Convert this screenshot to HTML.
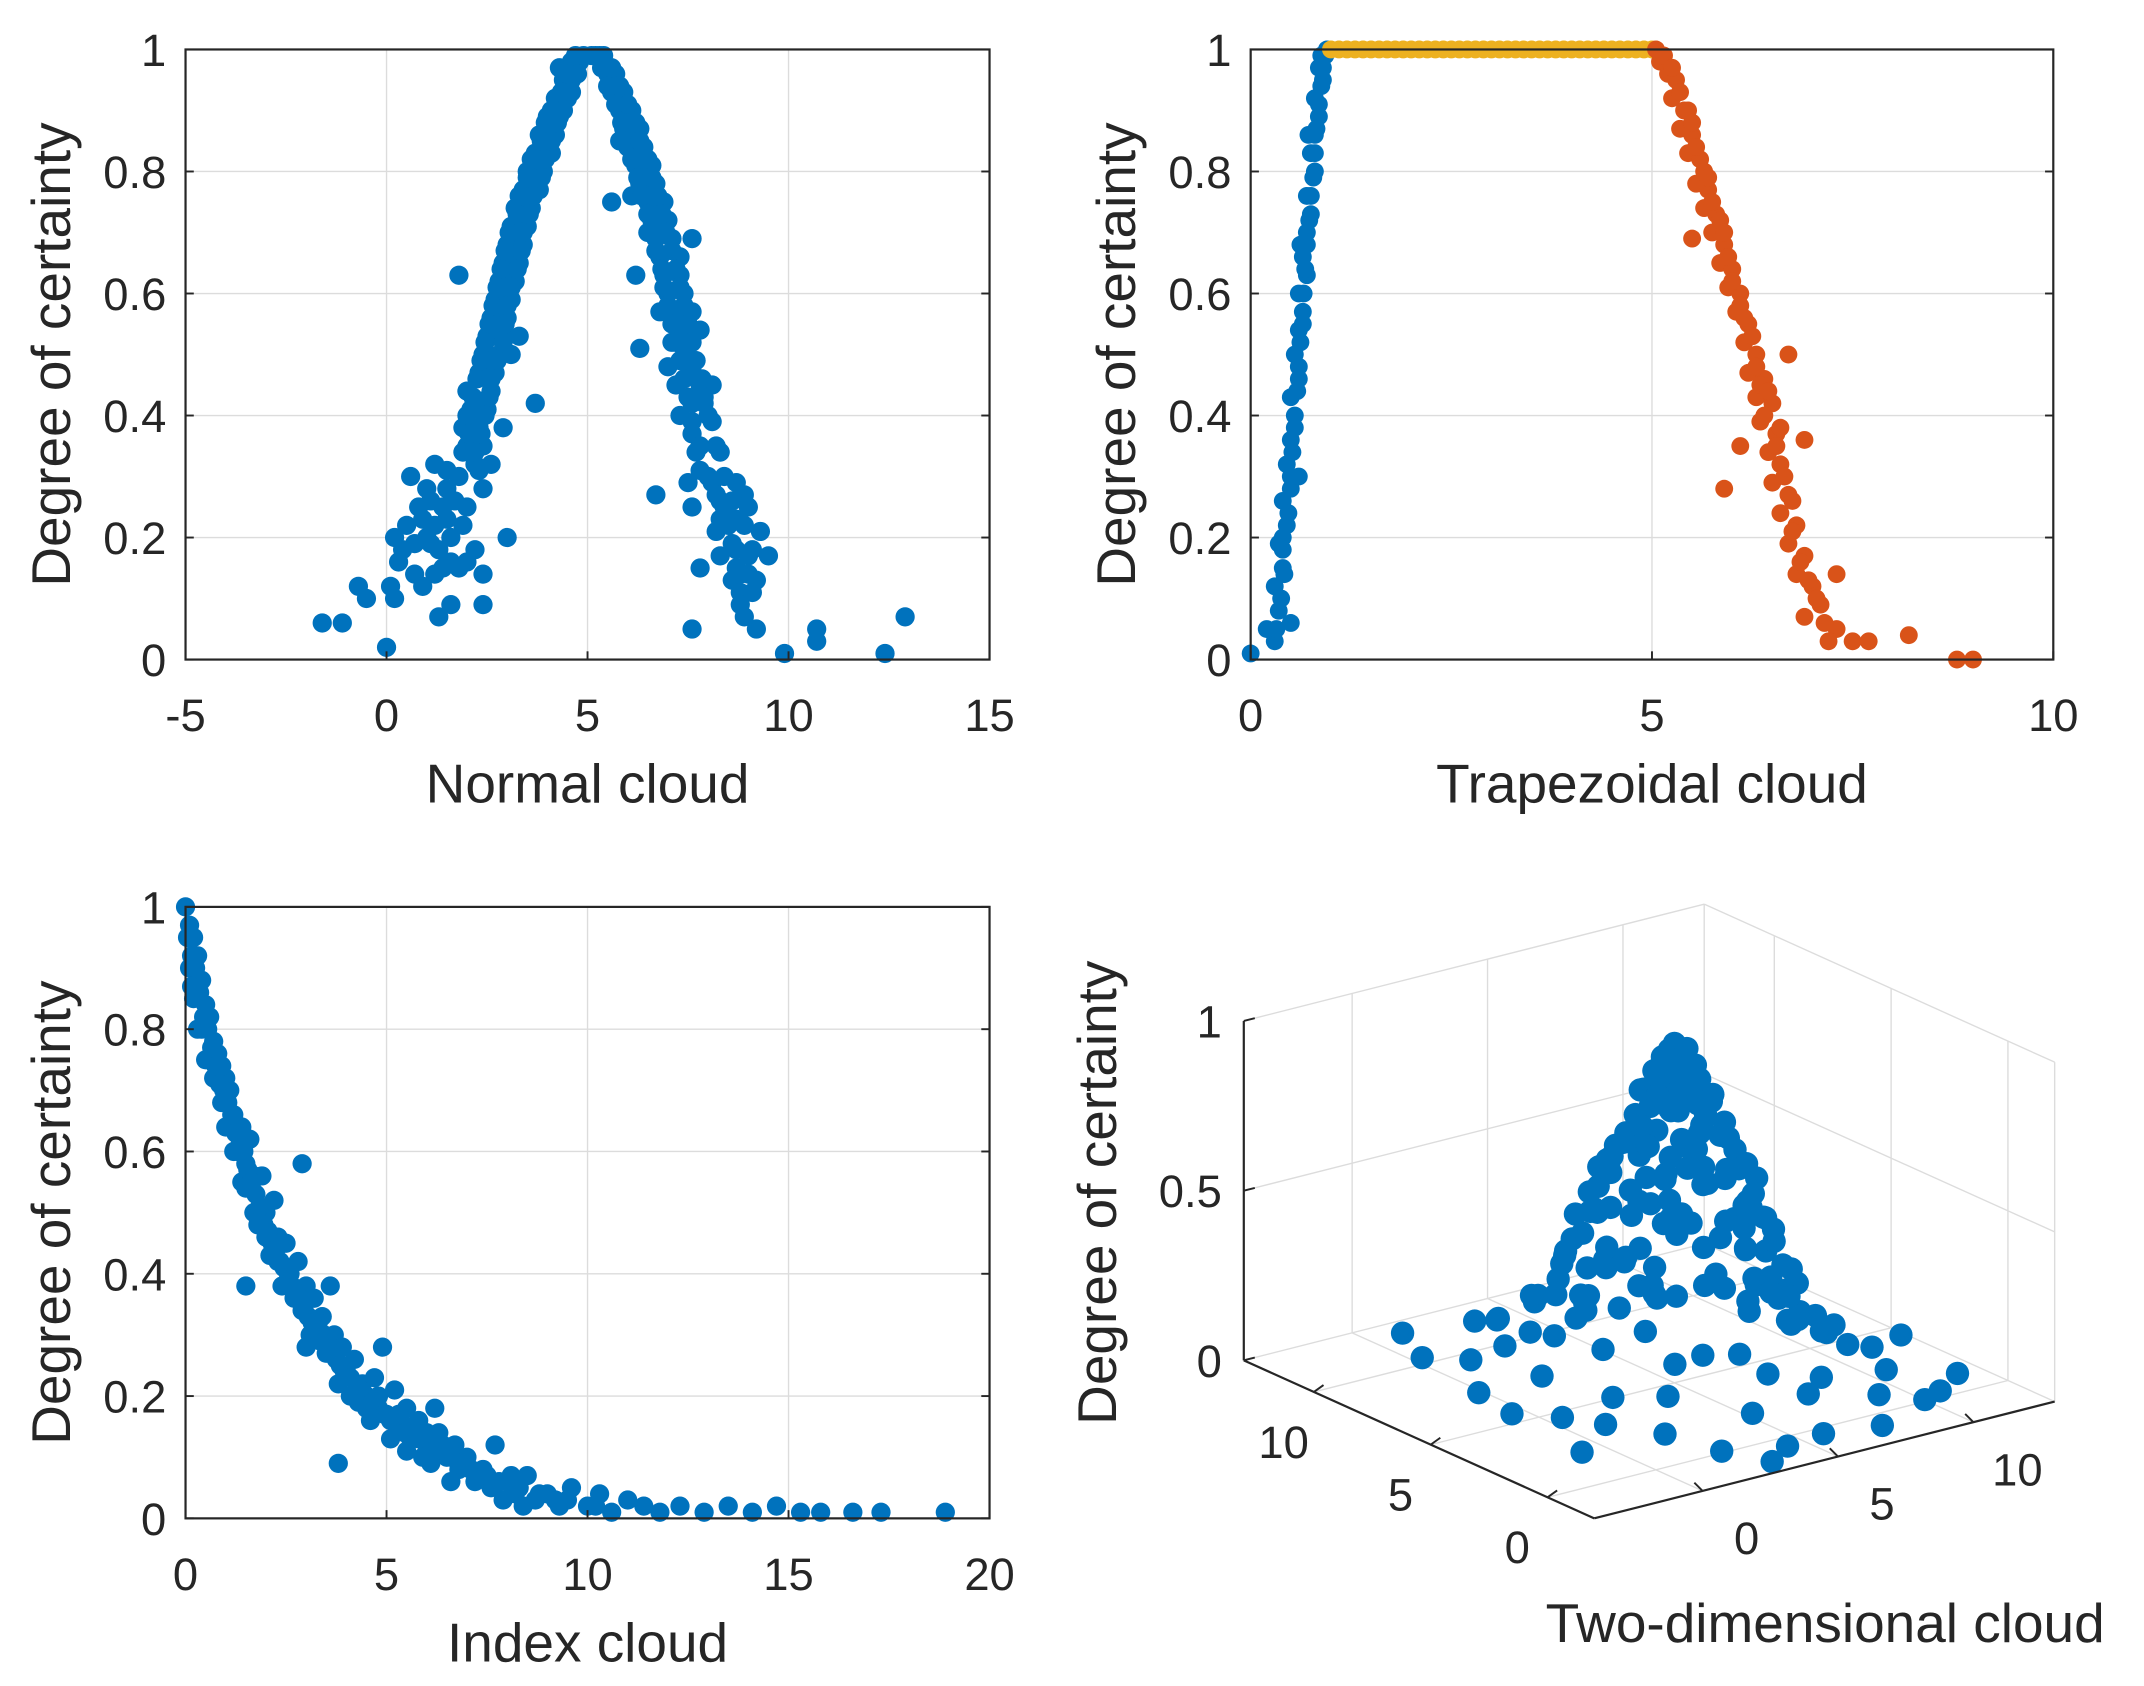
<!DOCTYPE html>
<html><head><meta charset="utf-8"><style>
html,body{margin:0;padding:0;background:#fff}
svg{display:block}
text{font-family:"Liberation Sans",Arial,sans-serif;fill:#262626}
</style></head><body>
<svg id="fig" width="2144" height="1686" viewBox="0 0 1560 1227" preserveAspectRatio="none" xmlns="http://www.w3.org/2000/svg"></svg>
<script>
// ---------- data ----------
const normalLeft=[[4.6,.98],[4.8,.98],[4.4,.95],[4.6,.95],[4.2,.92],[4.5,.92],[4.0,.89],[4.3,.89],[3.8,.86],[4.2,.86],[3.7,.83],[4.1,.83],[3.5,.80],[3.9,.80],[3.4,.77],[3.8,.77],[3.2,.74],[3.6,.74],[3.1,.71],[3.5,.71],[3.0,.68],[3.4,.68],[2.9,.65],[3.3,.65],[2.8,.62],[3.2,.62],[2.7,.59],[3.1,.59],[2.6,.56],[3.0,.56],[2.5,.53],[2.9,.53],[3.3,.53],[2.4,.50],[2.8,.50],[3.1,.50],[2.3,.47],[2.7,.47],[2.0,.44],[2.6,.44],[2.1,.41],[2.5,.41],[1.9,.38],[2.3,.38],[2.9,.38],[2.0,.35],[2.4,.35],[1.2,.32],[2.2,.32],[2.6,.32],[0.6,.30],[1.8,.30],[1.0,.28],[1.5,.28],[2.4,.28],[0.8,.25],[1.4,.25],[2.0,.25],[0.5,.22],[1.2,.22],[1.9,.22],[0.2,.20],[1.0,.20],[1.6,.20],[3.0,.20],[0.4,.18],[1.3,.18],[2.2,.18],[0.3,.16],[1.6,.16],[2.0,.16],[0.7,.14],[1.2,.14],[2.4,.14],[0.9,.12],[-0.7,.12],[0.1,.12],[-0.5,.10],[0.2,.10],[1.6,.09],[2.4,.09],[1.3,.07],[-1.6,.06],[-1.1,.06],[0.0,.02],[3.7,.42],[1.8,.63],[4.3,.97],[3.9,.84],[3.3,.70],[2.9,.58]];
const normalLeft2=[[4.7,.99],[4.9,.99],[4.5,.96],[4.75,.96],[4.35,.93],[4.6,.93],[4.1,.90],[4.4,.90],[3.95,.88],[4.25,.88],[3.85,.85],[4.1,.85],[3.6,.82],[3.95,.82],[3.5,.79],[3.85,.79],[3.3,.76],[3.65,.76],[3.25,.73],[3.55,.73],[3.05,.70],[3.4,.70],[2.95,.67],[3.35,.67],[2.85,.64],[3.25,.64],[2.75,.61],[3.1,.61],[2.65,.58],[3.0,.58],[2.55,.55],[2.95,.55],[2.45,.52],[2.9,.52],[2.35,.49],[2.75,.49],[2.25,.46],[2.6,.46],[2.15,.43],[2.55,.43],[2.0,.40],[2.45,.40],[2.05,.37],[2.35,.37],[1.9,.34],[2.2,.34],[1.5,.31],[2.3,.31],[1.1,.26],[1.7,.26],[0.9,.23],[1.5,.23],[0.7,.19],[1.1,.19],[1.4,.15],[1.8,.15]];
const normalRight=[[5.2,.99],[5.4,.99],[5.5,.96],[5.7,.96],[5.6,.93],[5.9,.93],[5.8,.90],[6.1,.90],[5.9,.87],[6.3,.87],[6.0,.84],[6.4,.84],[6.2,.81],[6.6,.81],[6.3,.78],[6.7,.78],[5.6,.75],[6.5,.75],[6.9,.75],[6.6,.72],[7.0,.72],[6.7,.69],[7.1,.69],[7.6,.69],[6.8,.66],[7.3,.66],[6.2,.63],[6.9,.63],[7.3,.63],[7.0,.60],[7.4,.60],[6.8,.57],[7.2,.57],[7.6,.57],[7.3,.54],[7.8,.54],[6.3,.51],[7.4,.51],[7.0,.48],[7.6,.48],[7.2,.45],[7.8,.45],[8.1,.45],[7.6,.42],[7.9,.42],[7.3,.40],[8.0,.40],[7.6,.37],[7.7,.34],[8.3,.34],[7.8,.31],[7.5,.29],[8.1,.29],[8.7,.29],[8.2,.27],[8.9,.27],[6.7,.27],[7.6,.25],[8.4,.25],[9.0,.25],[8.3,.23],[8.7,.23],[8.2,.21],[9.3,.21],[8.6,.19],[8.3,.17],[9.0,.17],[9.5,.17],[8.7,.15],[7.8,.15],[8.6,.13],[9.2,.13],[8.8,.11],[9.1,.11],[8.8,.09],[8.9,.07],[7.6,.05],[9.2,.05],[10.7,.05],[12.9,.07],[10.7,.03],[9.9,.01],[12.4,.01],[6.5,.70],[6.1,.76],[5.8,.85],[7.1,.52]];
const normalRight2=[[5.1,.99],[5.3,.99],[5.35,.97],[5.6,.97],[5.5,.94],[5.8,.94],[5.7,.91],[6.0,.91],[5.85,.88],[6.2,.88],[5.95,.85],[6.3,.85],[6.1,.82],[6.5,.82],[6.25,.79],[6.6,.79],[6.35,.76],[6.75,.76],[6.5,.73],[6.85,.73],[6.6,.70],[6.95,.70],[6.7,.67],[7.1,.67],[6.85,.64],[7.2,.64],[6.9,.61],[7.3,.61],[7.0,.58],[7.4,.58],[7.1,.55],[7.5,.55],[7.2,.52],[7.6,.52],[7.3,.49],[7.7,.49],[7.4,.46],[7.85,.46],[7.5,.43],[7.9,.43],[7.6,.39],[8.1,.39],[7.8,.35],[8.2,.35],[8.0,.30],[8.4,.30],[8.3,.26],[8.6,.26],[8.5,.22],[8.9,.22],[8.7,.18],[9.1,.18],[8.8,.14],[9.0,.14]];
const trapRise=[[0,.01],[.3,.03],[.35,.08],[.3,.12],[.4,.15],[.35,.19],[.45,.22],[.4,.26],[.5,.28],[.45,.32],[.5,.36],[.55,.4],[.5,.43],[.6,.46],[.55,.5],[.6,.54],[.65,.57],[.6,.6],[.7,.63],[.65,.66],[.7,.7],[.75,.73],[.7,.76],[.8,.8],[.75,.83],[.8,.86],[.85,.89],[.8,.92],[.9,.95],[.85,.97],[.95,1.0],[.2,.05],[.5,.06],[.4,.2],[.6,.3],[.62,.68],[.72,.86],[.88,.99],[.32,.05],[.38,.1],[.42,.14],[.4,.18],[.47,.24],[.5,.3],[.52,.34],[.55,.38],[.58,.44],[.6,.48],[.62,.52],[.65,.55],[.66,.6],[.68,.64],[.7,.68],[.73,.72],[.75,.76],[.78,.79],[.8,.83],[.82,.87],[.85,.91],[.88,.94],[.9,.97],[.93,.99]];
const trapFlatX=[1.0,1.1,1.2,1.3,1.4,1.5,1.6,1.7,1.8,1.9,2.0,2.1,2.2,2.3,2.4,2.5,2.6,2.7,2.8,2.9,3.0,3.1,3.2,3.3,3.4,3.5,3.6,3.7,3.8,3.9,4.0,4.1,4.2,4.3,4.4,4.5,4.6,4.7,4.8,4.9,5.0];
const trapFall=[[5.05,1],[5.1,.98],[5.2,.96],[5.3,.95],[5.25,.92],[5.4,.9],[5.35,.87],[5.5,.86],[5.45,.83],[5.6,.82],[5.55,.78],[5.7,.77],[5.65,.74],[5.8,.73],[5.75,.7],[5.9,.68],[5.85,.65],[6.0,.64],[5.95,.61],[6.1,.6],[6.05,.57],[6.2,.55],[6.15,.52],[6.3,.5],[6.2,.47],[6.4,.46],[6.3,.43],[6.5,.42],[6.35,.39],[6.55,.37],[6.45,.34],[6.6,.32],[6.5,.29],[6.7,.27],[6.6,.24],[6.8,.22],[6.7,.19],[6.9,.17],[6.8,.14],[7.0,.12],[7.1,.09],[6.9,.07],[7.3,.05],[7.2,.03],[7.5,.03],[7.7,.03],[8.2,.04],[8.8,0],[9.0,0],[5.5,.69],[6.7,.5],[5.9,.28],[6.1,.35],[6.9,.36],[7.3,.14],[5.15,.99],[5.25,.97],[5.35,.93],[5.45,.9],[5.5,.88],[5.55,.84],[5.65,.8],[5.7,.79],[5.75,.75],[5.85,.72],[5.9,.7],[5.95,.66],[6.0,.62],[6.1,.58],[6.15,.56],[6.25,.53],[6.3,.48],[6.35,.45],[6.45,.44],[6.4,.4],[6.6,.38],[6.55,.35],[6.65,.3],[6.75,.26],[6.75,.21],[6.85,.16],[6.95,.13],[7.05,.1],[7.15,.06]];
const indexPts=[[0,1],[.1,.97],[.2,.95],[.1,.9],[.3,.92],[.2,.85],[.4,.88],[.5,.84],[.3,.8],[.6,.82],[.7,.78],[.5,.75],[.8,.76],[1.0,.72],[.9,.68],[1.1,.7],[1.2,.66],[1.0,.64],[1.4,.64],[1.3,.6],[1.5,.58],[1.6,.62],[1.7,.56],[1.5,.54],[1.9,.56],[2.0,.5],[1.8,.48],[2.2,.52],[2.3,.46],[2.1,.43],[2.5,.45],[2.6,.4],[2.4,.38],[1.5,.38],[2.8,.42],[3.0,.38],[2.9,.34],[3.2,.36],[3.4,.33],[3.1,.3],[3.6,.38],[3.7,.3],[3.5,.27],[3.9,.28],[4.0,.24],[3.8,.22],[4.2,.26],[4.4,.22],[4.3,.19],[4.7,.23],[4.8,.2],[5.0,.17],[4.6,.16],[5.2,.21],[5.3,.15],[3.8,.09],[5.5,.18],[5.6,.13],[5.8,.16],[6.0,.12],[5.9,.1],[6.3,.14],[6.5,.1],[6.7,.12],[6.8,.08],[7.0,.1],[7.2,.06],[7.4,.08],[7.6,.05],[7.7,.12],[8.0,.06],[8.2,.04],[8.5,.07],[8.7,.03],[9.0,.04],[9.3,.02],[9.6,.05],[10.0,.02],[10.3,.04],[10.6,.01],[11.0,.03],[11.4,.02],[11.8,.01],[12.3,.02],[12.9,.01],[13.5,.02],[14.1,.01],[14.7,.02],[15.3,.01],[15.8,.01],[16.6,.01],[17.3,.01],[18.9,.01],[2.9,.58],[6.2,.18],[4.9,.28],[.15,.87],[.4,.8],[.7,.72],[.9,.74],[1.2,.6],[1.4,.55],[1.7,.5],[2.0,.46],[2.3,.42],[2.7,.36],[3.3,.32],[3.0,.28],[4.1,.2],[4.5,.18],[5.1,.13],[5.5,.11],[6.1,.09],[6.6,.06],[7.9,.03],[8.4,.02]];
const indexPts2=[[.05,.95],[.15,.92],[.25,.9],[.35,.86],[.45,.82],[.55,.8],[.65,.77],[.75,.74],[.85,.71],[.95,.7],[1.05,.68],[1.15,.66],[1.25,.63],[1.35,.61],[1.45,.6],[1.55,.57],[1.65,.55],[1.75,.53],[1.85,.51],[1.95,.48],[2.05,.47],[2.15,.45],[2.25,.44],[2.35,.42],[2.45,.41],[2.55,.39],[2.65,.38],[2.75,.37],[2.85,.36],[2.95,.34],[3.05,.33],[3.15,.32],[3.25,.31],[3.35,.29],[3.45,.3],[3.55,.28],[3.65,.27],[3.75,.26],[3.85,.25],[3.95,.24],[4.1,.23],[4.25,.22],[4.35,.21],[4.5,.2],[4.65,.19],[4.8,.18],[4.95,.17],[5.1,.16],[5.3,.17],[5.45,.14],[5.6,.15],[5.8,.13],[6.0,.14],[6.2,.11],[6.4,.12],[6.6,.1],[6.9,.09],[7.1,.08],[7.5,.07],[7.8,.06],[8.1,.07],[8.3,.05],[8.8,.04],[9.2,.03],[9.5,.03],[10.2,.02]];
const cloud2d=[[5,5,1],[5.3,5.2,.97],[4.8,4.9,.96],[5.6,4.8,.93],[4.5,5.3,.92],[5.2,5.8,.9],[5,4.3,.9],[5.9,5.4,.88],[4.2,4.8,.87],[5.5,4,.85],[4.6,6,.84],[6.2,5,.82],[3.9,5.4,.8],[5.8,6.3,.8],[4.8,3.7,.78],[6.5,4.6,.75],[3.6,4.5,.74],[5.2,6.8,.72],[4.1,3.4,.7],[6.7,5.8,.7],[3.3,5.7,.68],[6,3.4,.66],[5,7.2,.64],[7,4.5,.62],[3,4.2,.6],[4.3,7,.6],[6.4,6.8,.58],[3.8,2.9,.56],[7.3,5.5,.54],[2.8,5.9,.53],[5.5,2.6,.52],[6.9,3.3,.5],[4.6,7.8,.5],[2.7,3.8,.48],[7.6,4.2,.46],[3.5,7.5,.45],[6.8,7.3,.43],[4.2,2.3,.42],[7.9,5.8,.4],[2.3,4.8,.4],[6,8,.38],[3,2.6,.37],[7.5,2.9,.35],[8.2,4.8,.33],[2,6.5,.32],[5,1.8,.31],[4,8.5,.3],[7.8,7,.28],[2.2,3,.27],[8.5,3.8,.26],[6.5,1.9,.25],[1.8,5.5,.24],[5.7,8.8,.23],[3.2,1.7,.22],[8.8,6,.2],[1.5,4,.2],[7.2,8.4,.19],[3,8.8,.18],[8.2,2.2,.17],[1.4,7,.16],[5,1,.15],[9.2,4.5,.14],[4.5,9.5,.13],[2,1.8,.12],[9,7.5,.12],[6.8,.8,.11],[1,3,.1],[7.8,9.2,.1],[2.5,9.7,.09],[9.5,2.8,.09],[.8,5.8,.08],[4,.5,.07],[10,5.5,.07],[6,10,.06],[1.2,1,.05],[9.8,1.5,.05],[.5,8.5,.05],[8.5,.3,.04],[10.3,8,.04],[3.5,10.8,.04],[0,4,.03],[11,3.5,.03],[2,-.5,.03],[7,11,.03],[10.5,0,.02],[-.5,7,.02],[5.5,-.8,.02],[11.5,6.5,.02],[0,10,.02],[9,10.5,.01],[-1,2,.01],[12,1,.01],[3,-1.5,.01],[7.5,-1,.01],[12,9,.01],[1,12,.01],[4.5,3.2,.65],[5.8,7.5,.6],[6.5,2.5,.5],[3.5,6.5,.62],[5.3,5.5,.78],[4.8,5.5,.86],[5.6,5,.84],[4,5,.72],[6.2,3.8,.7],[4.5,6.5,.7],[6,6,.75],[4.4,4,.76],[3.3,3.5,.55],[7.2,6.3,.55],[6.2,7.6,.5],[2.5,5,.45],[7,3.8,.6],[5,8.3,.4],[8,5.2,.45],[5.1,4.6,.94],[4.9,5.4,.95],[5.4,5.6,.82],[4.3,5.8,.77],[6.3,4.2,.72],[3.7,3.9,.66],[6.6,6.2,.62],[4.2,6.8,.58],[5.9,2.9,.55],[3.1,6.4,.5],[7.4,4.8,.48],[4.8,2.8,.5],[6.9,6.9,.4],[2.8,3.2,.35],[3.9,8.1,.35],[8.4,5.9,.3],[6.9,2.3,.3],[2.4,6,.28],[5.4,9.2,.2],[9.3,5.2,.18]];
const cloud2dExtra=[[5.2,4.7,.99],[4.9,5.1,.98],[5.4,5.1,.95],[4.7,4.6,.93],[5.1,5.5,.93],[5.5,4.5,.9],[4.4,5.1,.89],[5.7,5.8,.86],[4.3,4.4,.84],[5.9,4.4,.85],[4.9,6.2,.83],[5.2,3.9,.82],[6.3,5.5,.78],[3.8,5,.78],[5.4,6.5,.76],[4.6,3.6,.74],[6.6,4.9,.7],[3.6,5.9,.7],[5.9,6.8,.67],[4.5,3,.66],[6.8,4,.64],[3.9,6.6,.63],[6.1,2.9,.6],[3.2,4.8,.61],[5.6,7.2,.59],[7.1,5.2,.58],[3.4,3.3,.57],[6.5,7.1,.52],[2.9,5.3,.55],[5.3,2.3,.47],[7.7,5,.48],[4.1,7.6,.5],[2.6,4.3,.44],[7.3,3.4,.42],[6.7,8,.4],[3.7,2.2,.4],[8.1,6.4,.37],[2.5,6.8,.37],[5.8,1.8,.35],[4.8,8.7,.33],[8.4,4.3,.3],[2.1,4,.31],[7.5,7.8,.3],[3.6,8.2,.28],[6.2,1.4,.26],[1.9,5.2,.27],[8.9,5.4,.22],[4.3,1.4,.21],[6.6,9,.2],[2.6,2.2,.19],[9.4,6.6,.15],[1.6,6.2,.17],[8.7,3,.14],[3.8,9.6,.12],[5.8,.2,.1],[10.2,4.2,.09],[1.5,8.2,.08],[8,10,.07],[.3,2.5,.05],[11,7.5,.05],[2.8,11,.04],[9.5,-.5,.03],[-1,5,.03],[4,-1,.02],[12.5,4,.02],[6,12,.02]];
const normalXTicks=[-5,0,5,10,15];
const trapXTicks=[0,5,10];
const indexXTicks=[0,5,10,15,20];
const certTicks=[0,0.2,0.4,0.6,0.8,1];
const floorTicks=[0,5,10];
const zTicks=[0,0.5,1];
const zTickLabels=["0","0.5","1"];

// ---------- helpers ----------
const svg=document.getElementById('fig');
const NS='http://www.w3.org/2000/svg';
function mk(tag,attrs,parent){const e=document.createElementNS(NS,tag);for(const k in attrs)e.setAttribute(k,attrs[k]);(parent||svg).appendChild(e);return e;}
const BLUE='#0072BD',ORANGE='#D95319',YEL='#EDB120',GRID='#dcdcdc',AX='#262626';
const TF=33, LF=40;

function scatterPlot(opt){
  const g=mk('g',{});
  
  
  const X=v=>opt.x0+(v-opt.xmin)/(opt.xmax-opt.xmin)*(opt.x1-opt.x0);
  const Y=v=>opt.y0-(v-0)/(1-0)*(opt.y0-opt.y1);
  mk('rect',{x:opt.x0,y:opt.y1,width:opt.x1-opt.x0,height:opt.y0-opt.y1,fill:'#fff'},g);
  opt.xticks.forEach(t=>{const l=mk('line',{x1:X(t),x2:X(t),y1:opt.y0,y2:opt.y1,stroke:GRID,'stroke-width':1},g);
    });
  certTicks.forEach(t=>{const l=mk('line',{x1:opt.x0,x2:opt.x1,y1:Y(t),y2:Y(t),stroke:GRID,'stroke-width':1},g);
    });
  const pts=mk('g',{},g);
  
  
  opt.series.forEach(s=>{s.data.forEach(p=>{const c=mk('circle',{cx:X(p[0]),cy:Y(p[1]),r:s.r||5.5,fill:s.color},pts);
    });});
  const box=mk('rect',{x:opt.x0,y:opt.y1,width:opt.x1-opt.x0,height:opt.y0-opt.y1,fill:'none',stroke:AX,'stroke-width':1.6},g);
  
  opt.xticks.forEach(t=>{mk('line',{x1:X(t),x2:X(t),y1:opt.y0,y2:opt.y0-6,stroke:AX,'stroke-width':1.4},g);
    const tx=mk('text',{x:X(t),y:opt.y0+52,'font-size':TF,'text-anchor':'middle'},g);tx.textContent=String(t);
    });
  certTicks.forEach(t=>{mk('line',{x1:opt.x0,x2:opt.x0+6,y1:Y(t),y2:Y(t),stroke:AX,'stroke-width':1.4},g);
    mk('line',{x1:opt.x1,x2:opt.x1-6,y1:Y(t),y2:Y(t),stroke:AX,'stroke-width':1.4},g);
    const tx=mk('text',{x:opt.x0-14,y:Y(t)+12,'font-size':TF,'text-anchor':'end'},g);tx.textContent=String(t);
    });
  const xl=mk('text',{x:(opt.x0+opt.x1)/2,y:opt.y0+104,'font-size':LF,'text-anchor':'middle'},g);xl.textContent=opt.xlabel;
  
  const cy=(opt.y0+opt.y1)/2, cx=opt.x0-84;
  const yl=mk('text',{x:cx,y:cy,'font-size':LF,'text-anchor':'middle',transform:`rotate(-90 ${cx} ${cy})`},g);yl.textContent='Degree of certainty';
  
}

scatterPlot({name:'normal-cloud-plot',x0:135,x1:720,y0:480,y1:36,xmin:-5,xmax:15,xticks:normalXTicks,xlabel:'Normal cloud',
  series:[{name:'normal-point',color:BLUE,data:normalLeft.concat(normalLeft2,normalRight,normalRight2),r:7}]});
scatterPlot({name:'trapezoidal-cloud-plot',x0:910,x1:1494,y0:480,y1:36,xmin:0,xmax:10,xticks:trapXTicks,xlabel:'Trapezoidal cloud',
  series:[{name:'rising-point',color:BLUE,data:trapRise,r:6.5},{name:'plateau-point',color:YEL,data:trapFlatX.map(x=>[x,1]),r:6.5},{name:'falling-point',color:ORANGE,data:trapFall,r:6.5}]});
scatterPlot({name:'index-cloud-plot',x0:135,x1:720,y0:1105,y1:660,xmin:0,xmax:20,xticks:indexXTicks,xlabel:'Index cloud',
  series:[{name:'index-point',color:BLUE,data:indexPts.concat(indexPts2),r:7}]});

// ---------- 3D plot ----------
(function(){
  const g=mk('g',{});
  
  
  const F=[1160,1105],R=[1495,1020],L=[905,990];
  const umin=-4,umax=13,vmin=-2,vmax=13,ZS=247;
  function P(u,v,z){const a=(u-umin)/(umax-umin),b=(v-vmin)/(vmax-vmin);
    return [F[0]+a*(R[0]-F[0])+b*(L[0]-F[0]), F[1]+a*(R[1]-F[1])+b*(L[1]-F[1])-z*ZS];}
  function line(p,q,st,w,name){const l=mk('line',{x1:p[0],y1:p[1],x2:q[0],y2:q[1],stroke:st,'stroke-width':w},g);
    }
  floorTicks.forEach(t=>{line(P(t,vmin,0),P(t,vmax,0),GRID,1,'floor-gridline');line(P(umin,t,0),P(umax,t,0),GRID,1,'floor-gridline');});
  floorTicks.forEach(t=>{line(P(t,vmax,0),P(t,vmax,1),GRID,1,'wall-gridline');line(P(umax,t,0),P(umax,t,1),GRID,1,'wall-gridline');});
  zTicks.forEach(z=>{line(P(umin,vmax,z),P(umax,vmax,z),GRID,1,'wall-gridline');line(P(umax,vmax,z),P(umax,vmin,z),GRID,1,'wall-gridline');});
  line(P(umax,vmax,0),P(umax,vmax,1),GRID,1,'wall-gridline');
  line(P(umax,vmin,0),P(umax,vmin,1),GRID,1,'wall-gridline');
  const pts=mk('g',{},g);
  
  
  cloud2d.concat(cloud2dExtra).sort((a,b)=>(b[0]+b[1])-(a[0]+a[1])).forEach(p=>{const q=P(p[0],p[1],p[2]);
    const c=mk('circle',{cx:q[0],cy:q[1],r:8.5,fill:BLUE},pts);
    });
  line(P(umin,vmax,0),P(umin,vmax,1),AX,1.6,'z-axis-line');
  line(P(umin,vmax,0),P(umin,vmin,0),AX,1.6,'y-axis-line');
  line(P(umin,vmin,0),P(umax,vmin,0),AX,1.6,'x-axis-line');
  zTicks.forEach((z,i)=>{const p=P(umin,vmax,z);line(p,[p[0]+8,p[1]-2],AX,1.4,'z-tick');
    const t=mk('text',{x:p[0]-16,y:p[1]+12,'font-size':TF,'text-anchor':'end'},g);t.textContent=zTickLabels[i];
    });
  floorTicks.forEach(v=>{const p=P(umin,v,0);line(p,[p[0]+7,p[1]-5],AX,1.4,'y-tick');
    const t=mk('text',{x:p[0]-22,y:p[1]+48,'font-size':TF,'text-anchor':'middle'},g);t.textContent=String(v);
    });
  floorTicks.forEach(u=>{const p=P(u,vmin,0);line(p,[p[0]-6,p[1]-6],AX,1.4,'x-tick');
    const t=mk('text',{x:p[0]+32,y:p[1]+46,'font-size':TF,'text-anchor':'middle'},g);t.textContent=String(u);
    });
  const xl=mk('text',{x:1328,y:1195,'font-size':LF,'text-anchor':'middle'},g);xl.textContent='Two-dimensional cloud';
  
  const yl=mk('text',{x:812,y:868,'font-size':LF,'text-anchor':'middle',transform:'rotate(-90 812 868)'},g);yl.textContent='Degree of certainty';
  
})();
</script>
</body></html>
